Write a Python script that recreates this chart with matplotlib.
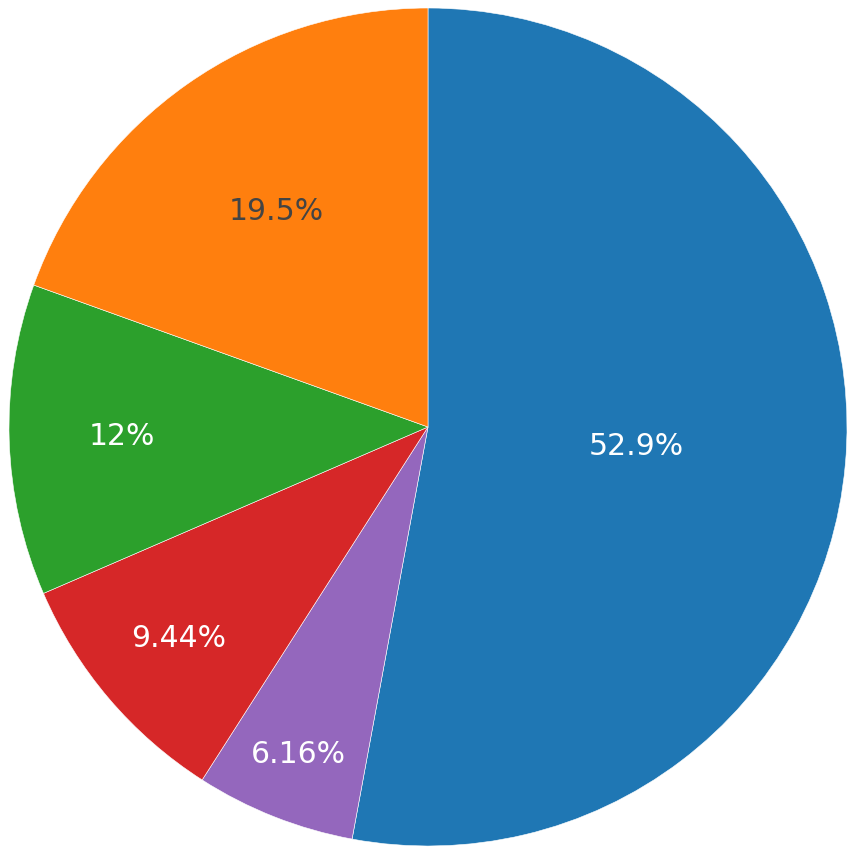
import numpy as np
import matplotlib
matplotlib.use("Agg")
import matplotlib.pyplot as plt

# data (clockwise from 12 o'clock)
labels = ["A", "E", "D", "C", "B"]
values = [52.9, 6.16, 9.44, 12.0, 19.5]
pct_text = ["52.9%", "6.16%", "9.44%", "12%", "19.5%"]
colors = ["#1f77b4", "#9467bd", "#d62728", "#2ca02c", "#ff7f0e"]
text_colors = ["white", "white", "white", "white", "#444444"]
# radial placement of the inside labels (fraction of radius)
text_rfrac = [0.50, 0.84, 0.78, 0.73, 0.63]

W, H = 859, 856
fig = plt.figure(figsize=(W / 100, H / 100), dpi=100)
ax = fig.add_axes([0, 0, 1, 1])

cx, cy, R = 428, H - 427, 419
wedges, _ = ax.pie(values, colors=colors, startangle=90, counterclock=False,
                   center=(cx, cy), radius=R,
                   wedgeprops=dict(linewidth=0.4, edgecolor="white"))
ax.set_xlim(0, W)
ax.set_ylim(0, H)
ax.set_aspect("equal")
ax.axis("off")

for w, t, c, rf in zip(wedges, pct_text, text_colors, text_rfrac):
    ang = np.deg2rad((w.theta1 + w.theta2) / 2)
    x = cx + rf * R * np.cos(ang)
    y = cy + rf * R * np.sin(ang)
    ax.text(x, y, t, ha="center", va="center", color=c, fontsize=21.5,
            family="DejaVu Sans")

fig.savefig("out.png", dpi=100, facecolor="white")
